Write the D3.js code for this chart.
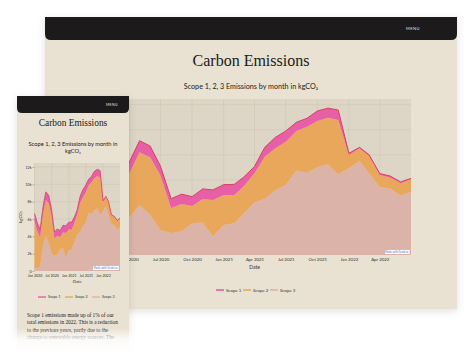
<!DOCTYPE html>
<html>
<head>
<meta charset="utf-8">
<script src="https://cdn.jsdelivr.net/npm/d3@7"></script>
<style>
  body { margin: 0; background: #fff; }
  svg { display: block; }
</style>
</head>
<body>
<div id="chart"></div>
<script>
// -- DATA --

months = [
  '2020-01','2020-02','2020-03','2020-04','2020-05','2020-06','2020-07','2020-08','2020-09','2020-10','2020-11','2020-12',
  '2021-01','2021-02','2021-03','2021-04','2021-05','2021-06','2021-07','2021-08','2021-09','2021-10','2021-11','2021-12',
  '2022-01','2022-02','2022-03','2022-04','2022-05','2022-06','2022-07'
]

// kgCO2 per month
scope1 = [900, 900, 900, 900, 930, 900, 750, 750, 790, 750, 810, 810,
          830, 850, 720, 550, 750, 880, 850, 700, 670, 800, 760, 800,
          130, 80, 100, 110, 110, 100, 70]
scope2 = [5350, 4300, 3400, 3500, 4200, 4600, 4350, 2000, 2170, 1380, 1870, 2890,
          2390, 2260, 2180, 2320, 3350, 3330, 3450, 3150, 3680, 3700, 3720, 4340,
          1040, 1020, 1380, 960, 900, 980, 990]
scope3 = [400, 300, 500, 3000, 4000, 3200, 2000, 1750, 1900, 2530, 2600, 1500,
          2400, 2530, 3330, 4200, 4500, 5190, 5600, 6750, 6570, 7000, 7250, 6440,
          6950, 7500, 6520, 5430, 5300, 4750, 5060]

seriesNames = ['Scope 1', 'Scope 2', 'Scope 3']
yTicks = [0, 2000, 4000, 6000, 8000, 10000, 12000]
desktopTicks = ['2020-01','2020-04','2020-07','2020-10','2021-01','2021-04','2021-07','2021-10','2022-01','2022-04']
phoneTicks = ['2020-01','2020-07','2021-01','2021-07','2022-01']
yMax = 12460

paragraph = [
  'Scope 1 emissions made up of 1% of our',
  'total emissions in 2022. This is a reduction',
  'to the previous years, partly due to the',
  'change to renewable energy sources. The'
]

// -- GLOBAL --

W = 474
H = 354
beige = '#e9e1d1'
plotBg = '#ddd6c6'
gridColor = '#cfc7b6'
serif = '"Liberation Serif", "DejaVu Serif", serif'
sans = 'Lato, "Open Sans", sans-serif'

colorMap = {
  'Scope 1': '#e75fa6',
  'Scope 2': '#e9a75b',
  'Scope 3': '#dbb3a9'
}
topLine = '#d8415f'

parseMonth = d3.timeParse('%Y-%m')
dates = months.map(parseMonth)
rows = months.map((m, i) => ({
  date: dates[i],
  'Scope 1': scope1[i],
  'Scope 2': scope2[i],
  'Scope 3': scope3[i]
}))

var svg = d3.select('#chart').append('svg')
  .attr('width', W)
  .attr('height', H)

var defs = svg.append('defs')
defs.append('filter').attr('id', 'shadow')
  .attr('x', '-20%').attr('y', '-20%').attr('width', '140%').attr('height', '140%')
  .append('feDropShadow')
  .attr('dx', 0).attr('dy', 2).attr('stdDeviation', 4)
  .attr('flood-color', '#000').attr('flood-opacity', 0.12)

var fade = defs.append('linearGradient').attr('id', 'fade')
  .attr('x1', 0).attr('y1', 0).attr('x2', 0).attr('y2', 1)
fade.append('stop').attr('offset', '0%').attr('stop-color', '#fff').attr('stop-opacity', 0)
fade.append('stop').attr('offset', '45%').attr('stop-color', '#fff').attr('stop-opacity', 0.85)
fade.append('stop').attr('offset', '100%').attr('stop-color', '#fff').attr('stop-opacity', 1)

// -- FUNCTIONS --

function header(g, x, y, w, h, r, menuX, menuSize) {
  g.append('path')
    .attr('d', 'M' + x + ',' + y + 'H' + (x + w) + 'V' + (y + h - r)
      + 'Q' + (x + w) + ',' + (y + h) + ' ' + (x + w - r) + ',' + (y + h)
      + 'H' + (x + r) + 'Q' + x + ',' + (y + h) + ' ' + x + ',' + (y + h - r) + 'Z')
    .style('fill', '#1c1a1a')
  g.append('text')
    .attr('x', menuX)
    .attr('y', y + h / 2)
    .attr('dy', '0.35em')
    .style('font-family', sans)
    .style('font-size', menuSize + 'px')
    .style('letter-spacing', '0.5px')
    .style('fill', '#e8e8e8')
    .style('text-anchor', 'middle')
    .text('MENU')
}

function plotChart(g, c) {
  var xMap = d3.scaleTime()
    .domain(d3.extent(dates))
    .range([c.left, c.right])

  var yMap = d3.scaleLinear()
    .domain([0, yMax])
    .range([c.bottom, c.top])

  g.append('rect')
    .attr('x', c.left)
    .attr('y', c.top)
    .attr('width', c.right - c.left)
    .attr('height', c.bottom - c.top)
    .style('fill', plotBg)

  var tickDates = c.ticks.map(parseMonth)

  // grid
  g.append('g').selectAll('line')
    .data(tickDates)
    .enter().append('line')
    .attr('x1', d => xMap(d)).attr('x2', d => xMap(d))
    .attr('y1', c.top).attr('y2', c.bottom)
    .style('stroke', gridColor).style('stroke-width', 0.6)
  g.append('g').selectAll('line')
    .data(yTicks.slice(1))
    .enter().append('line')
    .attr('x1', c.left).attr('x2', c.right)
    .attr('y1', d => yMap(d)).attr('y2', d => yMap(d))
    .style('stroke', gridColor).style('stroke-width', 0.6)

  var stacked = d3.stack().keys(['Scope 3', 'Scope 2', 'Scope 1'])(rows)

  var area = d3.area()
    .x(d => xMap(d.data.date))
    .y0(d => yMap(d[0]))
    .y1(d => yMap(d[1]))

  g.append('g').selectAll('path')
    .data(stacked)
    .enter().append('path')
    .attr('d', area)
    .style('fill', d => colorMap[d.key])

  var line = d3.line()
    .x(d => xMap(d.data.date))
    .y(d => yMap(d[1]))

  g.append('path')
    .datum(stacked[2])
    .attr('d', line)
    .style('fill', 'none')
    .style('stroke', topLine)
    .style('stroke-width', c.lineWidth)
    .style('stroke-linejoin', 'round')

  // little badge, bottom right
  g.append('rect')
    .attr('x', c.right - c.badgeW - 1)
    .attr('y', c.bottom - c.badgeH - 1)
    .attr('width', c.badgeW)
    .attr('height', c.badgeH)
    .style('fill', '#fff')
  g.append('text')
    .attr('x', c.right - c.badgeW / 2 - 1)
    .attr('y', c.bottom - c.badgeH / 2 - 1)
    .attr('dy', '0.35em')
    .style('font-family', sans)
    .style('font-size', (c.badgeH * 0.7) + 'px')
    .style('fill', '#4a6fd0')
    .style('text-anchor', 'middle')
    .text('Made with Scott.io »')

  // axes
  var xAxis = d3.axisBottom(xMap)
    .tickValues(tickDates)
    .tickFormat(d3.timeFormat('%b %Y'))
    .tickSize(0)
    .tickPadding(c.pad)

  var gX = g.append('g')
    .attr('transform', 'translate(0,' + c.bottom + ')')
    .call(xAxis)
  gX.select('.domain').remove()
  gX.selectAll('text')
    .style('font-family', sans)
    .style('font-size', c.tickFont + 'px')
    .style('fill', '#333')

  g.append('text')
    .attr('x', (c.left + c.right) / 2)
    .attr('y', c.bottom + c.dateOffset)
    .style('font-family', sans)
    .style('font-size', c.labelFont + 'px')
    .style('fill', '#333')
    .style('text-anchor', 'middle')
    .text('Date')

  var yAxis = d3.axisLeft(yMap)
    .tickValues(yTicks)
    .tickFormat(d3.format('~s'))
    .tickSize(2)
    .tickPadding(1)

  var gY = g.append('g')
    .attr('transform', 'translate(' + c.left + ',0)')
    .call(yAxis)
  gY.select('.domain').remove()
  gY.selectAll('line').style('stroke', '#666').style('stroke-width', 0.4)
  gY.selectAll('text')
    .style('font-family', sans)
    .style('font-size', c.tickFont + 'px')
    .style('fill', '#333')

  g.append('text')
    .attr('transform', 'translate(' + (c.left - c.yTitleOffset) + ',' + ((c.top + c.bottom) / 2) + ') rotate(-90)')
    .style('font-family', sans)
    .style('font-size', c.labelFont + 'px')
    .style('fill', '#333')
    .style('text-anchor', 'middle')
    .text('kgCO₂')

  // legend
  var gLeg = g.append('g').selectAll('g')
    .data(seriesNames)
    .enter().append('g')
    .attr('transform', (d, i) => 'translate(' + (c.legendX + i * c.legendStep) + ',' + c.legendY + ')')
  gLeg.append('line')
    .attr('x1', 0).attr('x2', c.swatch)
    .style('stroke', d => colorMap[d])
    .style('stroke-width', c.lineWidth + 0.6)
  gLeg.append('text')
    .attr('x', c.swatch + 2)
    .attr('dy', '0.35em')
    .style('font-family', sans)
    .style('font-size', c.tickFont + 'px')
    .style('fill', '#333')
    .text(d => d)
}

// -- DESKTOP --

var gDesk = svg.append('g')
gDesk.append('rect')
  .attr('x', 45).attr('y', 17)
  .attr('width', 412).attr('height', 292)
  .style('fill', beige)
  .attr('filter', 'url(#shadow)')
header(gDesk, 45, 17, 412, 23, 6, 413, 4)

gDesk.append('text')
  .attr('x', 251).attr('y', 66)
  .style('font-family', serif)
  .style('font-size', '16px')
  .style('fill', '#1a1a1a')
  .style('text-anchor', 'middle')
  .text('Carbon Emissions')

gDesk.append('text')
  .attr('x', 251).attr('y', 88.5)
  .style('font-family', sans)
  .style('font-size', '7.2px')
  .style('fill', '#222')
  .style('text-anchor', 'middle')
  .text('Scope 1, 2, 3 Emissions by month in kgCO₂')

plotChart(gDesk, {
  left: 98, right: 411, top: 99, bottom: 255,
  ticks: desktopTicks, tickFont: 4.4, labelFont: 5, pad: 3, dateOffset: 14,
  yTitleOffset: 16, lineWidth: 1,
  badgeW: 25, badgeH: 4,
  legendX: 216, legendStep: 27, legendY: 290, swatch: 8
})

// -- PHONE --

var gPhone = svg.append('g')
gPhone.append('rect')
  .attr('x', 17).attr('y', 96)
  .attr('width', 112).attr('height', 258)
  .style('fill', beige)
  .attr('filter', 'url(#shadow)')
header(gPhone, 17, 96, 112, 17, 5, 112, 3.4)

gPhone.append('text')
  .attr('x', 73).attr('y', 126)
  .style('font-family', serif)
  .style('font-size', '9.4px')
  .style('fill', '#1a1a1a')
  .style('text-anchor', 'middle')
  .text('Carbon Emissions')

gPhone.append('text')
  .attr('x', 73).attr('y', 146)
  .style('font-family', sans)
  .style('font-size', '5.7px')
  .style('fill', '#222')
  .style('text-anchor', 'middle')
  .text('Scope 1, 2, 3 Emissions by month in')
gPhone.append('text')
  .attr('x', 73).attr('y', 153)
  .style('font-family', sans)
  .style('font-size', '5.7px')
  .style('fill', '#222')
  .style('text-anchor', 'middle')
  .text('kgCO₂')

plotChart(gPhone, {
  left: 34.5, right: 120, top: 163, bottom: 271,
  ticks: phoneTicks, tickFont: 3.6, labelFont: 4.2, pad: 3, dateOffset: 12,
  yTitleOffset: 13, lineWidth: 0.8,
  badgeW: 26, badgeH: 4,
  legendX: 38, legendStep: 27, legendY: 297, swatch: 8
})

gPhone.append('g').selectAll('text')
  .data(paragraph)
  .enter().append('text')
  .attr('x', 27)
  .attr('y', (d, i) => 317 + i * 7.3)
  .style('font-family', serif)
  .style('font-size', '5.3px')
  .style('fill', '#222')
  .text(d => d)

// fade out at the bottom
svg.append('rect')
  .attr('x', 0).attr('y', 328)
  .attr('width', 140).attr('height', 26)
  .style('fill', 'url(#fade)')
</script>
</body>
</html>
